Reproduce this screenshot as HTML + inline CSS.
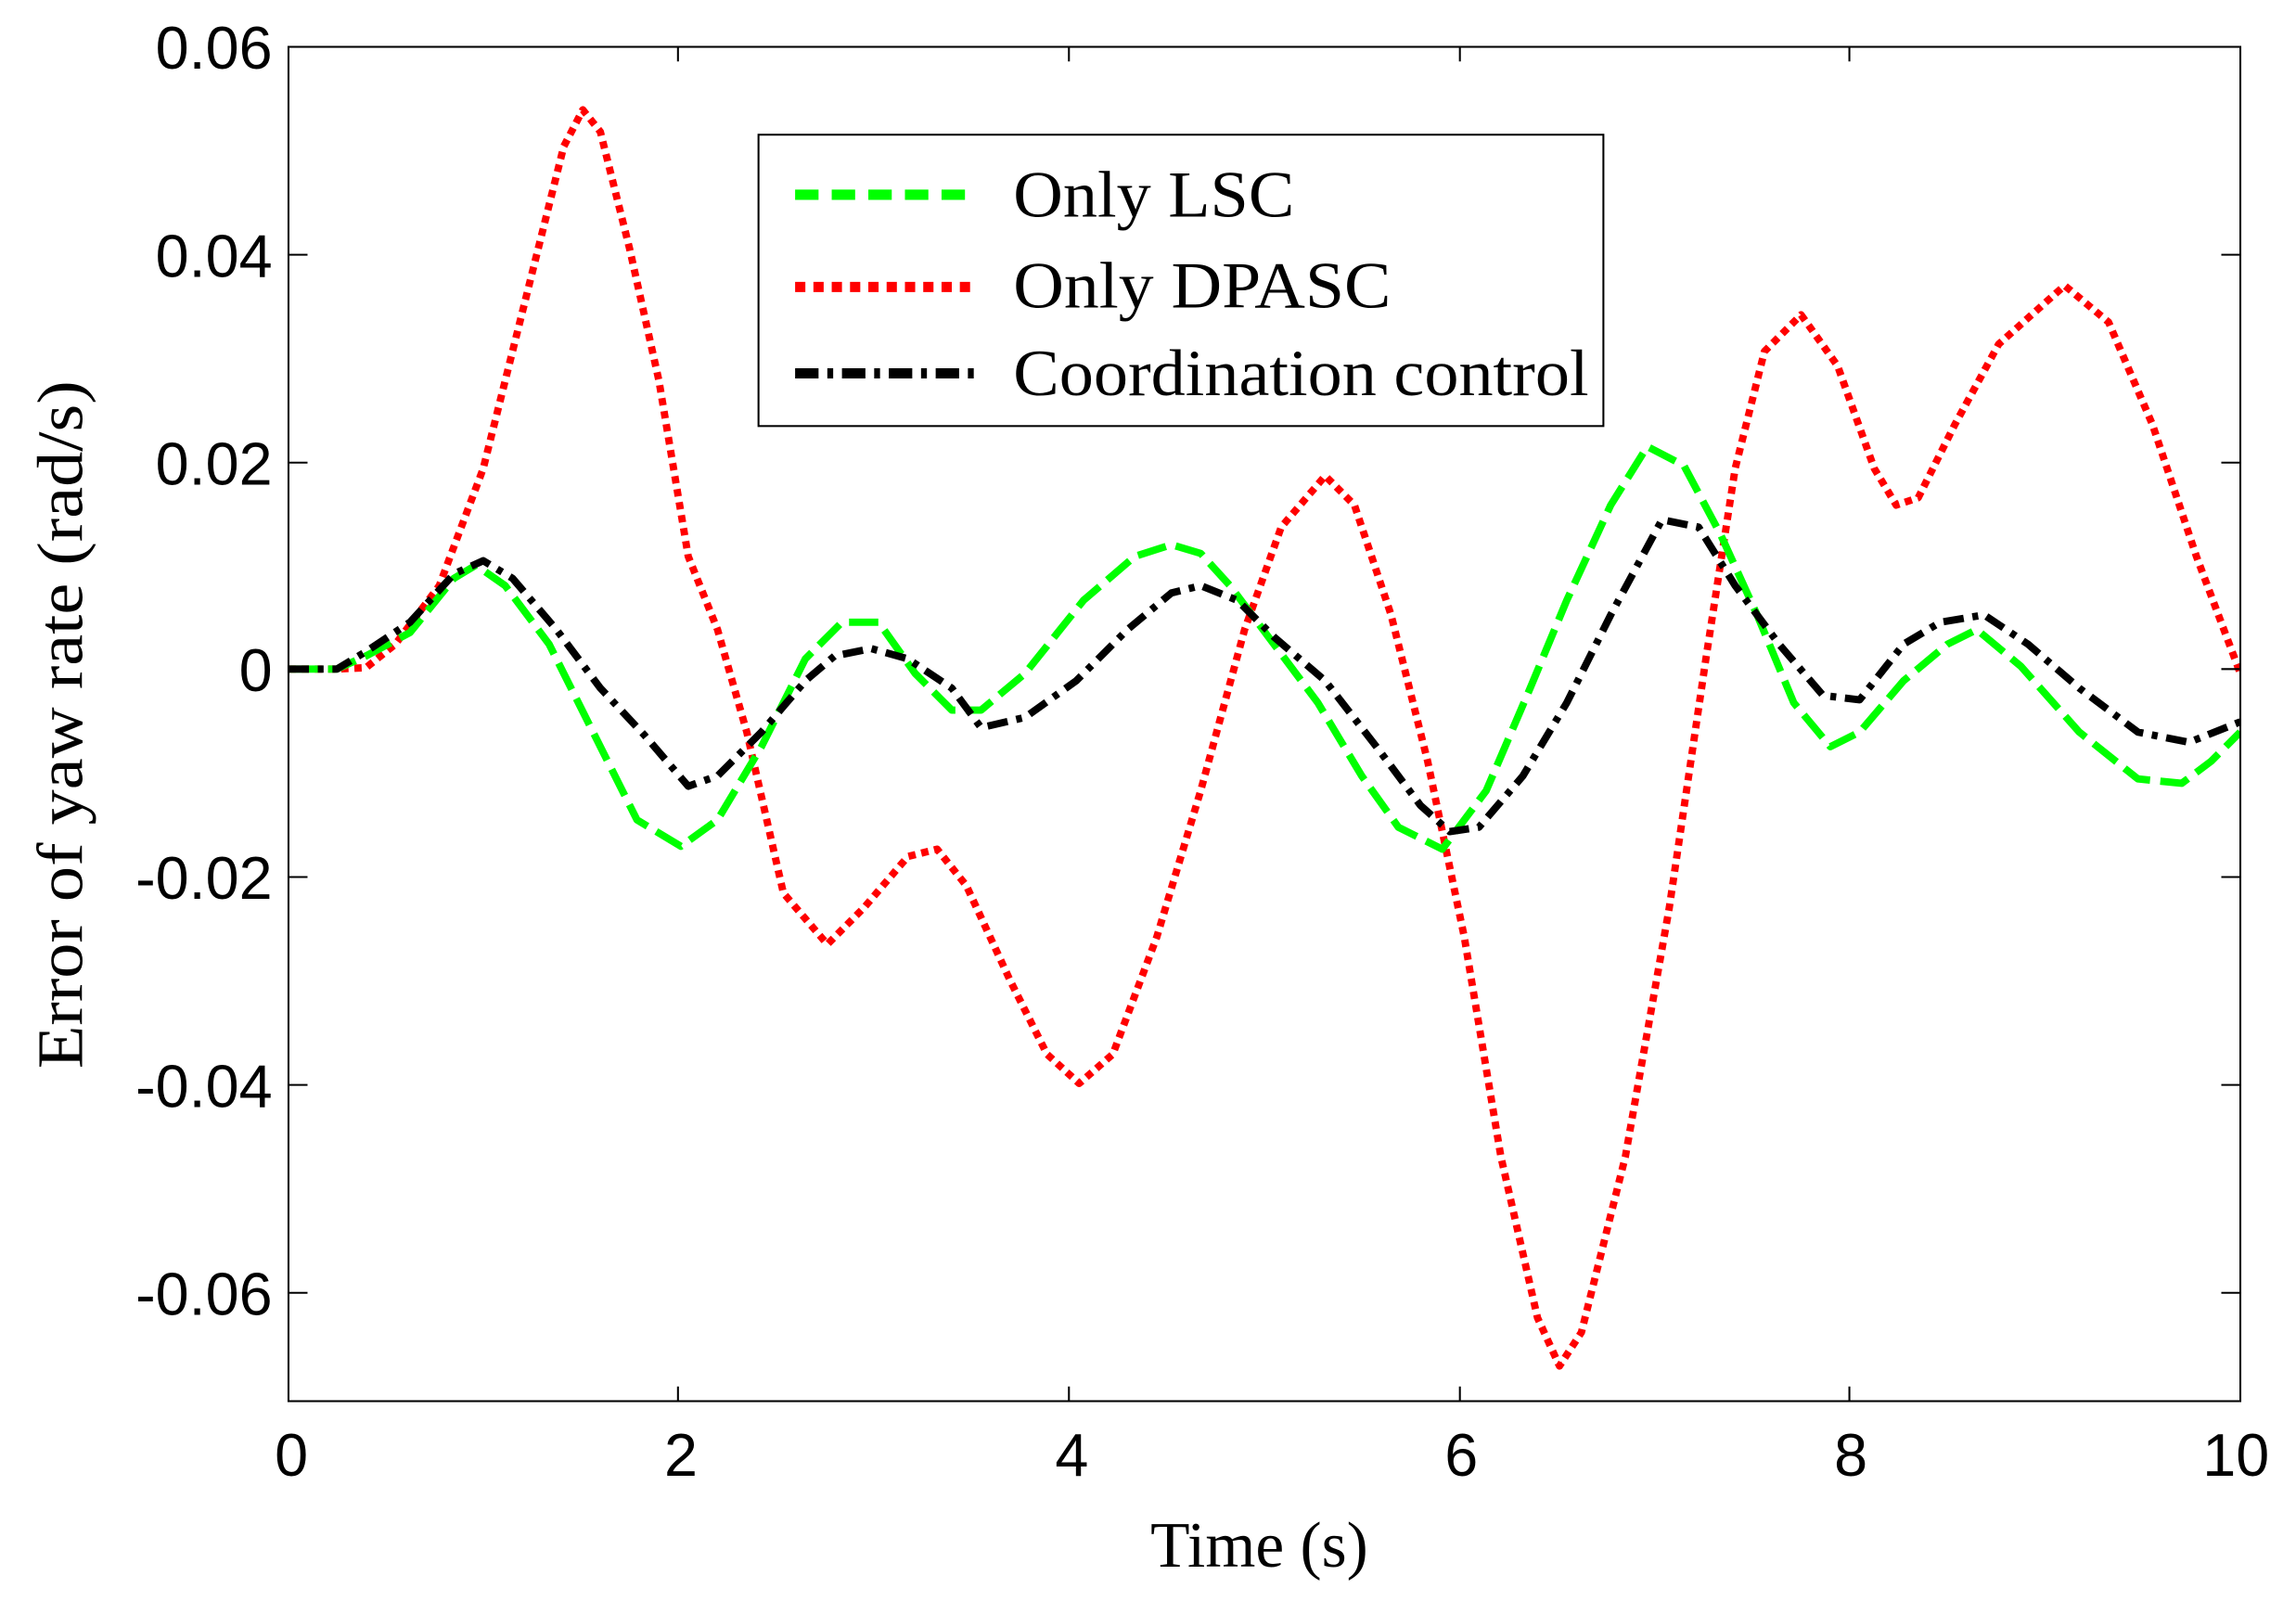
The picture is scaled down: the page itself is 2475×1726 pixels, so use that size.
<!DOCTYPE html>
<html><head><meta charset="utf-8"><style>html,body{margin:0;padding:0;background:#fff;}svg{display:block}</style></head>
<body>
<svg width="2475" height="1726" viewBox="0 0 1568 1093.5" xmlns="http://www.w3.org/2000/svg">
<rect width="1568" height="1094" fill="#fff"/>
<defs><clipPath id="c"><rect x="197" y="32" width="1333" height="925"/></clipPath></defs>
<g clip-path="url(#c)" fill="none" stroke-linejoin="round">
<polyline stroke="#f00" stroke-width="5" stroke-dasharray="5,4" points="197,457 230,457 250,456 270,440 300,400 330,320 360,200 385,100 398,75 410,90 430,170 450,260 470,380 490,430 510,500 535,610 565,645 590,620 620,585 640,580 660,605 690,670 715,720 737,740 760,720 790,640 820,540 850,430 875,360 905,325 925,345 950,420 975,520 1000,640 1025,790 1050,900 1065,933 1080,910 1110,790 1140,620 1165,450 1185,320 1205,240 1230,215 1255,250 1280,320 1295,345 1310,340 1335,290 1365,235 1410,195 1440,220 1470,290 1500,380 1530,460"/>
<polyline stroke="#0f0" stroke-width="5" stroke-dasharray="20,7" points="197,457 230,457 250,448 280,432 310,395 325,386 345,400 375,440 405,500 435,560 465,578 490,560 520,510 550,450 575,425 600,425 625,460 650,485 670,485 700,460 740,410 775,380 800,372 820,378 840,400 870,440 900,480 930,530 955,565 985,580 1015,540 1045,470 1070,410 1100,345 1125,305 1150,318 1175,365 1200,420 1225,480 1250,510 1270,500 1300,465 1330,440 1350,430 1380,455 1420,500 1460,532 1490,535 1510,520 1530,500"/>
<polyline stroke="#000" stroke-width="5" stroke-dasharray="14,6,4,6" points="197,457 230,457 250,445 280,425 310,392 330,383 350,395 380,430 410,470 440,502 470,537 490,530 520,500 550,465 570,448 595,443 620,450 650,470 670,497 700,490 735,465 770,430 800,405 820,400 845,410 870,435 905,465 940,510 970,550 990,568 1010,565 1040,530 1070,480 1100,420 1135,355 1160,360 1185,400 1215,440 1245,475 1270,478 1300,440 1325,425 1355,420 1385,440 1420,470 1460,500 1495,507 1530,493"/>
</g>
<g stroke="#000" stroke-width="1.3" fill="none">
<rect x="197" y="32" width="1333" height="925"/>
<path d="M463,957v-10M730,957v-10M997,957v-10M1263,957v-10M463,32v10M730,32v10M997,32v10M1263,32v10
M197,174h13M197,316h13M197,457h13M197,599h13M197,741h13M197,883h13
M1530,174h-13M1530,316h-13M1530,457h-13M1530,599h-13M1530,741h-13M1530,883h-13"/>
</g>
<g font-family="Liberation Sans, sans-serif" font-size="41" fill="#000">
<g text-anchor="end">
<text x="186" y="47">0.06</text><text x="186" y="189">0.04</text><text x="186" y="331">0.02</text>
<text x="186" y="472">0</text><text x="186" y="614">-0.02</text><text x="186" y="756">-0.04</text><text x="186" y="898">-0.06</text>
</g>
<g text-anchor="middle">
<text x="199" y="1008">0</text><text x="465" y="1008">2</text><text x="732" y="1008">4</text><text x="998" y="1008">6</text><text x="1264" y="1008">8</text><text x="1527" y="1008">10</text>
</g>
</g>
<g font-family="Liberation Serif, serif" font-size="44" fill="#000">
<text x="860" y="1070" text-anchor="middle">Time (s)</text>
<text transform="translate(56,495) rotate(-90)" text-anchor="middle" textLength="470" lengthAdjust="spacingAndGlyphs">Error of yaw rate (rad/s)</text>
</g>
<rect x="518" y="92" width="577" height="199" fill="#fff" stroke="#000" stroke-width="1.3"/>
<g stroke-width="7" fill="none">
<line x1="543" y1="133" x2="668" y2="133" stroke="#0f0" stroke-dasharray="16,9"/>
<line x1="543" y1="196" x2="668" y2="196" stroke="#f00" stroke-dasharray="7,5.5"/>
<line x1="543" y1="255" x2="668" y2="255" stroke="#000" stroke-dasharray="16,6,4,6"/>
</g>
<g font-family="Liberation Serif, serif" font-size="45" fill="#000">
<text x="692" y="148" textLength="192" lengthAdjust="spacingAndGlyphs">Only LSC</text>
<text x="692" y="210" textLength="258" lengthAdjust="spacingAndGlyphs">Only DPASC</text>
<text x="692" y="270" textLength="393" lengthAdjust="spacingAndGlyphs">Coordination control</text>
</g>
</svg>
</body></html>
